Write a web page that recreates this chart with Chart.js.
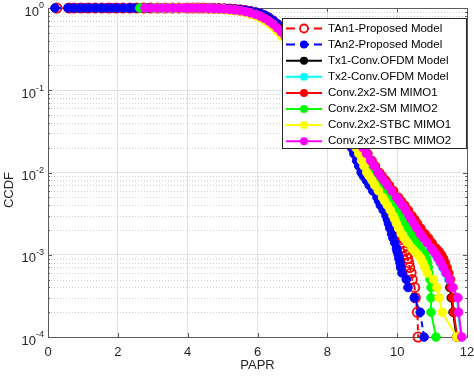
<!DOCTYPE html>
<html>
<head>
<meta charset="utf-8">
<script src="https://cdn.jsdelivr.net/npm/chart.js"></script>
<style>
  html, body { margin: 0; padding: 0; background: #fff; }
  #wrap { width: 474px; height: 376px; }
</style>
</head>
<body>
<div id="wrap"><canvas id="ccdfChart" width="474" height="376"></canvas></div>
<script>
// ---- data ----
const seriesNames = ['TAn1-Proposed Model', 'TAn2-Proposed Model', 'Tx1-Conv.OFDM Model', 'Tx2-Conv.OFDM Model',
    'Conv.2x2-SM MIMO1', 'Conv.2x2-SM MIMO2', 'Conv.2x2-STBC MIMO1', 'Conv.2x2-STBC MIMO2'];
const seriesColors = ['#ff0000', '#0000ff', '#000000', '#00ffff', '#ff0000', '#00ff00', '#ffff00', '#ff00ff'];

const xTicks = [0, 2, 4, 6, 8, 10, 12];
const yDecades = [1e-4, 1e-3, 1e-2, 1e-1, 1];
const yExponents = ['-4', '-3', '-2', '-1', '0'];
const yMinorMantissa = [2, 3, 4, 5, 6, 7, 8, 9];

// flat part, CCDF = 1
const headTAn1 = [0.25, 0.6, 0.75, 0.95, 1.15, 1.35, 1.55, 1.75, 1.95, 2.15, 2.35, 2.55, 2.75, 2.95, 3.15, 3.35, 3.55, 3.75];
const headTAn2 = [0.2, 0.57, 0.72, 0.88, 1.04, 1.2, 1.36, 1.52, 1.68, 1.84, 2.0, 2.16, 2.32, 2.48, 2.64, 2.8, 2.96, 3.12, 3.28, 3.44, 3.6, 3.8];
const headTx1 = [2.9, 3.1, 3.3, 3.5, 3.7, 3.85];
const headTx2 = [3.0, 3.2, 3.4, 3.6, 3.8];
const headSm1 = [2.95, 3.15, 3.35, 3.55, 3.75];
const headSm2 = [2.63, 2.8, 3.0, 3.2, 3.4, 3.6, 3.8];
const headStbc1 = [3.1, 3.3, 3.5, 3.7, 3.85];
const headStbc2 = [2.78, 2.94, 3.1, 3.26, 3.42, 3.58, 3.74, 3.88];

// roll-off part: shared PAPR grid, CCDF per series
const bodyPapr = [4.0, 4.15, 4.3, 4.45, 4.6, 4.75, 4.9, 5.05, 5.2, 5.35, 5.5, 5.65, 5.8, 5.95, 6.08, 6.2, 6.32, 6.44, 6.56, 6.68, 6.8, 7.0, 7.3, 7.6, 7.9];
const bodyTAn1 = [1, 1, 0.999, 0.998, 0.996, 0.993, 0.988, 0.982, 0.975, 0.965, 0.95, 0.932, 0.908, 0.878, 0.846, 0.805, 0.755, 0.695, 0.63, 0.565, 0.497, 0.39, 0.26, 0.16, 0.09];
const bodyTAn2 = [1, 1, 0.999, 0.998, 0.997, 0.994, 0.99, 0.985, 0.979, 0.97, 0.957, 0.94, 0.918, 0.89, 0.86, 0.82, 0.77, 0.71, 0.645, 0.58, 0.51, 0.4, 0.27, 0.165, 0.092];
const bodyTx1 = [1, 1, 0.999, 0.997, 0.995, 0.99, 0.984, 0.975, 0.965, 0.951, 0.932, 0.908, 0.878, 0.843, 0.804, 0.761, 0.71, 0.651, 0.587, 0.522, 0.456, 0.352, 0.245, 0.162, 0.098];
const bodyTx2 = [1, 1, 0.999, 0.997, 0.994, 0.988, 0.981, 0.971, 0.96, 0.945, 0.924, 0.898, 0.866, 0.83, 0.79, 0.745, 0.692, 0.632, 0.567, 0.502, 0.437, 0.34, 0.24, 0.16, 0.1];
const bodySm1 = [1, 1, 0.999, 0.997, 0.994, 0.988, 0.981, 0.971, 0.96, 0.945, 0.924, 0.898, 0.866, 0.83, 0.79, 0.745, 0.692, 0.632, 0.567, 0.502, 0.437, 0.34, 0.24, 0.162, 0.105];
const bodySm2 = [1, 1, 0.999, 0.997, 0.993, 0.987, 0.979, 0.969, 0.957, 0.941, 0.92, 0.893, 0.86, 0.823, 0.782, 0.737, 0.684, 0.624, 0.56, 0.495, 0.43, 0.335, 0.235, 0.158, 0.1];
const bodyStbc1 = [1, 1, 0.998, 0.995, 0.991, 0.984, 0.975, 0.963, 0.949, 0.931, 0.907, 0.877, 0.84, 0.8, 0.756, 0.708, 0.652, 0.59, 0.525, 0.46, 0.395, 0.31, 0.215, 0.14, 0.085];
const bodyStbc2 = [1, 1, 0.999, 0.997, 0.994, 0.989, 0.982, 0.973, 0.962, 0.948, 0.928, 0.903, 0.872, 0.836, 0.796, 0.752, 0.7, 0.64, 0.575, 0.51, 0.445, 0.345, 0.24, 0.16, 0.1];

// tail: shared CCDF levels, PAPR per series
const tailCcdf = [0.03, 0.025, 0.02, 0.017, 0.014, 0.012, 0.01, 0.009, 0.008, 0.007, 0.006, 0.005, 0.0045, 0.004,
    0.0035, 0.003, 0.0027, 0.0024, 0.0021, 0.0018, 0.0016, 0.0014, 0.0012, 0.0011, 0.001, 0.0009, 0.0008, 0.0007,
    0.0006, 0.0005, 0.0004, 0.0003, 0.0002, 0.0001];
const tailTAn1 = [8.5, 8.6, 8.72, 8.8, 8.88, 8.94, 9.02, 9.1, 9.17, 9.25, 9.36, 9.47, 9.53, 9.6, 9.68, 9.76, 9.81, 9.86,
    9.92, 9.98, 10.04, 10.1, 10.17, 10.22, 10.27, 10.3, 10.33, 10.36, 10.4, 10.43, 10.5, 10.52, 10.58, 10.6];
const tailTAn2 = [8.45, 8.57, 8.7, 8.76, 8.84, 8.9, 8.97, 9.04, 9.12, 9.2, 9.3, 9.42, 9.47, 9.52, 9.6, 9.68, 9.72, 9.75,
    9.79, 9.84, 9.88, 9.93, 9.98, 10.0, 10.03, 10.05, 10.08, 10.1, 10.14, 10.26, 10.31, 10.49, 10.66, 10.77];
const tailTx1 = [8.7, 8.86, 9.02, 9.13, 9.25, 9.35, 9.47, 9.55, 9.65, 9.75, 9.87, 10.0, 10.08, 10.18, 10.28, 10.38, 10.46,
    10.54, 10.64, 10.76, 10.86, 10.96, 11.08, 11.16, 11.23, 11.29, 11.34, 11.39, 11.44, 11.49, 11.51, 11.55, 11.6, 11.7];
const tailTx2 = [8.68, 8.84, 9.0, 9.1, 9.22, 9.32, 9.43, 9.51, 9.6, 9.7, 9.82, 9.96, 10.04, 10.13, 10.22, 10.32, 10.38,
    10.46, 10.54, 10.64, 10.73, 10.84, 10.96, 11.03, 11.1, 11.16, 11.23, 11.3, 11.38, 11.48, 11.58, 11.72, 11.74, 11.82];
const tailSm1 = [8.72, 8.88, 9.05, 9.16, 9.28, 9.38, 9.5, 9.58, 9.68, 9.78, 9.9, 10.04, 10.12, 10.22, 10.32, 10.42, 10.5,
    10.58, 10.68, 10.8, 10.9, 11.0, 11.12, 11.2, 11.27, 11.33, 11.38, 11.43, 11.48, 11.53, 11.54, 11.58, 11.62, 11.72];
const tailSm2 = [8.6, 8.72, 8.86, 8.95, 9.05, 9.13, 9.22, 9.3, 9.4, 9.5, 9.62, 9.76, 9.84, 9.92, 10.0, 10.1, 10.16, 10.24,
    10.32, 10.42, 10.5, 10.58, 10.66, 10.72, 10.8, 10.84, 10.87, 10.89, 10.91, 10.94, 10.97, 10.97, 10.97, 11.11];
const tailStbc1 = [8.55, 8.68, 8.82, 8.9, 8.98, 9.05, 9.13, 9.2, 9.28, 9.36, 9.46, 9.58, 9.64, 9.72, 9.8, 9.88, 9.93, 9.98,
    10.04, 10.12, 10.2, 10.3, 10.42, 10.5, 10.6, 10.68, 10.74, 10.8, 10.86, 11.04, 11.14, 11.2, 11.29, 11.71];
const tailStbc2 = [8.7, 8.86, 9.02, 9.12, 9.24, 9.34, 9.45, 9.53, 9.62, 9.72, 9.84, 9.98, 10.06, 10.15, 10.24, 10.34, 10.4,
    10.48, 10.56, 10.66, 10.75, 10.86, 10.98, 11.05, 11.12, 11.18, 11.25, 11.32, 11.4, 11.5, 11.6, 11.74, 11.76, 11.85];

const heads = [headTAn1, headTAn2, headTx1, headTx2, headSm1, headSm2, headStbc1, headStbc2];
const bodies = [bodyTAn1, bodyTAn2, bodyTx1, bodyTx2, bodySm1, bodySm2, bodyStbc1, bodyStbc2];
const tails = [tailTAn1, tailTAn2, tailTx1, tailTx2, tailSm1, tailSm2, tailStbc1, tailStbc2];

const FONT = '"Liberation Sans", Arial, Helvetica, sans-serif';
const AXIS_COLOR = '#5a5a5a';
const TEXT_COLOR = '#262626';

function buildPoints(head, body, tail) {
    const pts = [];
    head.forEach(x => pts.push({ x: x, y: 1 }));
    bodyPapr.forEach((x, i) => pts.push({ x: x, y: body[i] }));
    tail.forEach((x, i) => pts.push({ x: x, y: tailCcdf[i] }));
    return pts;
}

const datasets = seriesNames.map((name, i) => {
    const dashed = i < 2;
    const hollow = i === 0;
    return {
        label: name,
        data: buildPoints(heads[i], bodies[i], tails[i]),
        // later series are drawn on top, like the plot command order
        order: -i,
        borderColor: seriesColors[i],
        backgroundColor: seriesColors[i],
        borderWidth: 2,
        borderDash: dashed ? [6, 4] : [],
        pointRadius: hollow ? 4.6 : 4.3,
        pointBorderWidth: hollow ? 1.8 : 1,
        pointBackgroundColor: hollow ? 'rgba(255,255,255,0)' : seriesColors[i],
        pointBorderColor: seriesColors[i],
        tension: 0,
        clip: false
    };
});

// axes frame, inward ticks, minor dotted grid, y labels
const framePlugin = {
    id: 'frame',
    beforeDatasetsDraw(chart) {
        const { ctx, chartArea: a, scales } = chart;
        const ys = scales.y, xs = scales.x;
        ctx.save();
        ctx.strokeStyle = '#cfcfcf';
        ctx.lineWidth = 1;
        ctx.setLineDash([1, 2]);
        yDecades.slice(0, -1).forEach(d => {
            yMinorMantissa.forEach(m => {
                const py = Math.round(ys.getPixelForValue(d * m)) + 0.5;
                ctx.beginPath();
                ctx.moveTo(a.left, py);
                ctx.lineTo(a.right, py);
                ctx.stroke();
            });
        });
        ctx.setLineDash([]);
        ctx.strokeStyle = AXIS_COLOR;
        ctx.strokeRect(Math.round(a.left) + 0.5, Math.round(a.top) + 0.5,
            Math.round(a.right - a.left), Math.round(a.bottom - a.top));
        ctx.beginPath();
        xTicks.forEach(v => {
            const px = Math.round(xs.getPixelForValue(v)) + 0.5;
            ctx.moveTo(px, a.bottom); ctx.lineTo(px, a.bottom - 4);
            ctx.moveTo(px, a.top); ctx.lineTo(px, a.top + 4);
        });
        yDecades.forEach(d => {
            const py = Math.round(ys.getPixelForValue(d)) + 0.5;
            ctx.moveTo(a.left, py); ctx.lineTo(a.left + 4, py);
            ctx.moveTo(a.right, py); ctx.lineTo(a.right - 4, py);
        });
        yDecades.slice(0, -1).forEach(d => {
            yMinorMantissa.forEach(m => {
                const py = Math.round(ys.getPixelForValue(d * m)) + 0.5;
                ctx.moveTo(a.left, py); ctx.lineTo(a.left + 2, py);
                ctx.moveTo(a.right, py); ctx.lineTo(a.right - 2, py);
            });
        });
        ctx.stroke();
        ctx.restore();
    },
    afterDraw(chart) {
        const { ctx, scales } = chart;
        const ys = scales.y;
        ctx.save();
        ctx.fillStyle = TEXT_COLOR;
        ctx.textBaseline = 'middle';
        yDecades.forEach((d, i) => {
            const py = ys.getPixelForValue(d);
            ctx.font = '13px ' + FONT;
            const wBase = ctx.measureText('10').width;
            ctx.font = '9px ' + FONT;
            const wExp = ctx.measureText(yExponents[i]).width;
            const x0 = 44 - wBase - wExp;
            ctx.font = '13px ' + FONT;
            ctx.fillText('10', x0, py + 4);
            ctx.font = '9px ' + FONT;
            ctx.fillText(yExponents[i], x0 + wBase, py - 2);
        });
        // y axis title
        ctx.font = '13px ' + FONT;
        ctx.textAlign = 'center';
        ctx.translate(9, 190);
        ctx.rotate(-Math.PI / 2);
        ctx.fillText('CCDF', 0, 0);
        ctx.restore();
    }
};

// legend box drawn over the curves, top right of the axes
const legendPlugin = {
    id: 'boxLegend',
    afterDatasetsDraw(chart) {
        const { ctx, chartArea: a } = chart;
        const left = 282.5, top = 18.5, right = Math.round(a.right) - 0.5, bottom = 148.5;
        ctx.save();
        ctx.fillStyle = '#ffffff';
        ctx.fillRect(left, top, right - left, bottom - top);
        ctx.strokeStyle = '#262626';
        ctx.lineWidth = 1;
        ctx.strokeRect(left, top, right - left, bottom - top);
        ctx.font = '11.5px ' + FONT;
        ctx.textBaseline = 'middle';
        seriesNames.forEach((name, i) => {
            const cy = 28.5 + i * 16.1;
            ctx.strokeStyle = seriesColors[i];
            ctx.lineWidth = 2;
            ctx.setLineDash(i < 2 ? [9, 5] : []);
            ctx.beginPath();
            ctx.moveTo(286, cy);
            ctx.lineTo(322, cy);
            ctx.stroke();
            ctx.setLineDash([]);
            ctx.beginPath();
            ctx.arc(304, cy, 4, 0, Math.PI * 2);
            if (i === 0) {
                ctx.fillStyle = '#ffffff';
                ctx.fill();
                ctx.lineWidth = 1.8;
                ctx.stroke();
            } else {
                ctx.fillStyle = seriesColors[i];
                ctx.fill();
            }
            ctx.fillStyle = '#000000';
            ctx.fillText(name, 328, cy);
        });
        ctx.restore();
    }
};

const ctx = document.getElementById('ccdfChart').getContext('2d');
new Chart(ctx, {
    type: 'line',
    data: { datasets: datasets },
    options: {
        responsive: false,
        animation: false,
        devicePixelRatio: 1,
        events: [],
        layout: { autoPadding: false, padding: { top: 8, right: 7, left: 0, bottom: 0 } },
        plugins: {
            legend: { display: false },
            tooltip: { enabled: false }
        },
        scales: {
            x: {
                type: 'linear',
                min: 0,
                max: 12,
                afterFit: s => { s.height = 39; s.paddingLeft = 0; s.paddingRight = 0; },
                afterBuildTicks: s => { s.ticks = xTicks.map(v => ({ value: v })); },
                ticks: { padding: 8, color: TEXT_COLOR, font: { family: FONT, size: 13 }, maxRotation: 0, autoSkip: false },
                grid: {
                    drawTicks: false,
                    color: c => (c.tick && (c.tick.value === 0 || c.tick.value === 12)) ? 'rgba(0,0,0,0)' : '#e1e1e1'
                },
                border: { display: false },
                title: { display: true, text: 'PAPR', color: TEXT_COLOR, font: { family: FONT, size: 13 }, padding: { top: 0, bottom: 3 } }
            },
            y: {
                type: 'logarithmic',
                min: 1e-4,
                max: 1,
                afterFit: s => { s.width = 48; s.paddingTop = 0; s.paddingBottom = 0; },
                afterBuildTicks: s => { s.ticks = yDecades.map(v => ({ value: v })); },
                ticks: { callback: () => '', padding: 0 },
                grid: {
                    drawTicks: false,
                    color: c => (c.tick && (c.tick.value === 1 || c.tick.value === 1e-4)) ? 'rgba(0,0,0,0)' : '#e1e1e1'
                },
                border: { display: false },
                title: { display: false }
            }
        }
    },
    plugins: [framePlugin, legendPlugin]
});
</script>
</body>
</html>
